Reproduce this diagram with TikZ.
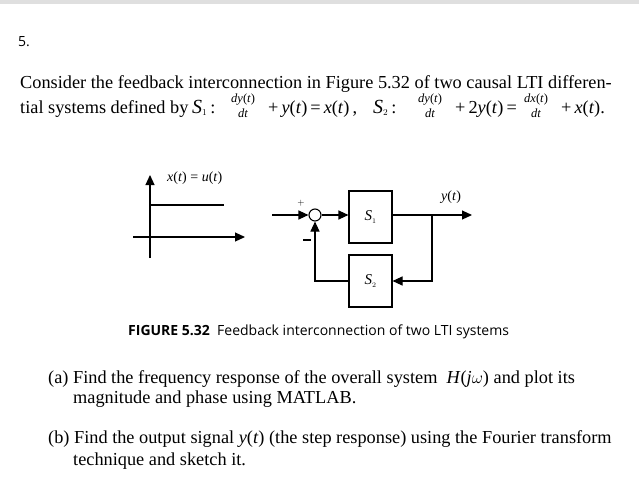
\documentclass[tikz,border=0pt]{standalone}
\usepackage{fontspec}
\setmainfont{Liberation Serif}
\newfontfamily\capfont{Open Sans}
\usetikzlibrary{arrows.meta}
\newcommand{\iv}[1]{\textit{#1}}
\newcommand{\fr}[2]{\raisebox{-4.5pt}{\fontsize{12.5}{12}\selectfont\shortstack{#1\\[1pt]#2}}}
\begin{document}
\begin{tikzpicture}[x=1pt,y=-1pt,
  ln/.style={line width=1.1pt},
  arr/.style={ln,-{Triangle[length=10pt,width=9pt]}},
  blk/.style={draw,line width=1.1pt,minimum width=43pt,minimum height=52pt,inner sep=0pt,font=\fontsize{15}{17}\selectfont},
  txt/.style={anchor=base west,inner sep=0pt,font=\fontsize{18.3}{20}\selectfont}]
\useasboundingbox (0,0) rectangle (639,479);
\fill[gray!25] (0,0) rectangle (639,4);
\node[txt,font=\capfont\fontsize{14}{16}\selectfont] (num) at (18,46) {5.};
\node[txt] (l1) at (20,88) {Consider the feedback interconnection in Figure 5.32 of two causal LTI differen-};
\node[txt] (l2) at (20,113) {tial systems defined by};
\node[txt] (e1) at (192,113) {{\fontsize{20}{20}\selectfont\iv{S}}$_{\scriptscriptstyle 1}$\,:};
\node[txt] (e2) at (231,113) {\fr{\iv{dy}(\iv{t})}{\iv{dt}}};
\node[txt] (e3) at (268,113) {+\,\iv{y}(\iv{t})\,=\,\iv{x}(\iv{t})\,,};
\node[txt] (e4) at (373,113) {{\fontsize{20}{20}\selectfont\iv{S}}$_{\scriptscriptstyle 2}$\,:};
\node[txt] (e5) at (418,113) {\fr{\iv{dy}(\iv{t})}{\iv{dt}}};
\node[txt] (e6) at (455,113) {+\,2\iv{y}(\iv{t})\,=};
\node[txt] (e7) at (524,113) {\fr{\iv{dx}(\iv{t})}{\iv{dt}}};
\node[txt] (e8) at (561,113) {+\,\iv{x}(\iv{t}).};
% step plot
\coordinate (vb) at (150,258); \coordinate (vt) at (150,175);
\coordinate (hl) at (133,237); \coordinate (hr) at (245,237);
\draw[arr] (vb) -- (vt);
\draw[arr] (hl) -- (hr);
\coordinate (s0) at (150,205); \coordinate (s1) at (224,205);
\draw[ln] (s0) -- (s1);
\node[anchor=base west,inner sep=0pt,font=\fontsize{14}{16}\selectfont] (xl) at (167,181) {\iv{x}(\iv{t}) = \iv{u}(\iv{t})};
% block diagram
\node[draw,circle,line width=1.1pt,minimum size=12pt,inner sep=0pt] (sum) at (315,215) {};
\node[blk] (S1) at (370.5,217) {\iv{S}$_{\scriptscriptstyle 1}$};
\node[blk] (S2) at (370.5,281) {\iv{S}$_{\scriptscriptstyle 2}$};
\coordinate (in) at (272,215);
\coordinate (br) at (432,215);
\coordinate (out) at (472,215);
\draw[arr] (in) -- (sum);
\draw[arr] (sum) -- (S1.west |- sum);
\draw[ln] (S1.east |- br) -- (br);
\draw[arr] (br) -- (out);
\draw[arr] (br) |- (S2);
\draw[arr] (S2) -| (sum);
\node[font=\small] (plus) at (301,203) {$+$};
\draw[line width=1.6pt] (303,240) -- (311,240);
\node[anchor=base west,inner sep=0pt,font=\fontsize{14}{16}\selectfont] (yl) at (441,200) {\iv{y}(\iv{t})};
\node[anchor=base west,inner sep=0pt,font=\capfont\fontsize{14}{16}\selectfont] (cap) at (128,335) {\textbf{FIGURE 5.32}\ \ Feedback interconnection of two LTI systems};
\node[txt] (a1) at (48,383) {(a) Find the frequency response of the overall system\ \ \iv{H}(\iv{j$\omega$}) and plot its};
\node[txt] (a2) at (73,403) {magnitude and phase using MATLAB.};
\node[txt] (b1) at (48,443) {(b) Find the output signal \iv{y}(\iv{t}) (the step response) using the Fourier transform};
\node[txt] (b2) at (73,465) {technique and sketch it.};
\end{tikzpicture}
\end{document}
